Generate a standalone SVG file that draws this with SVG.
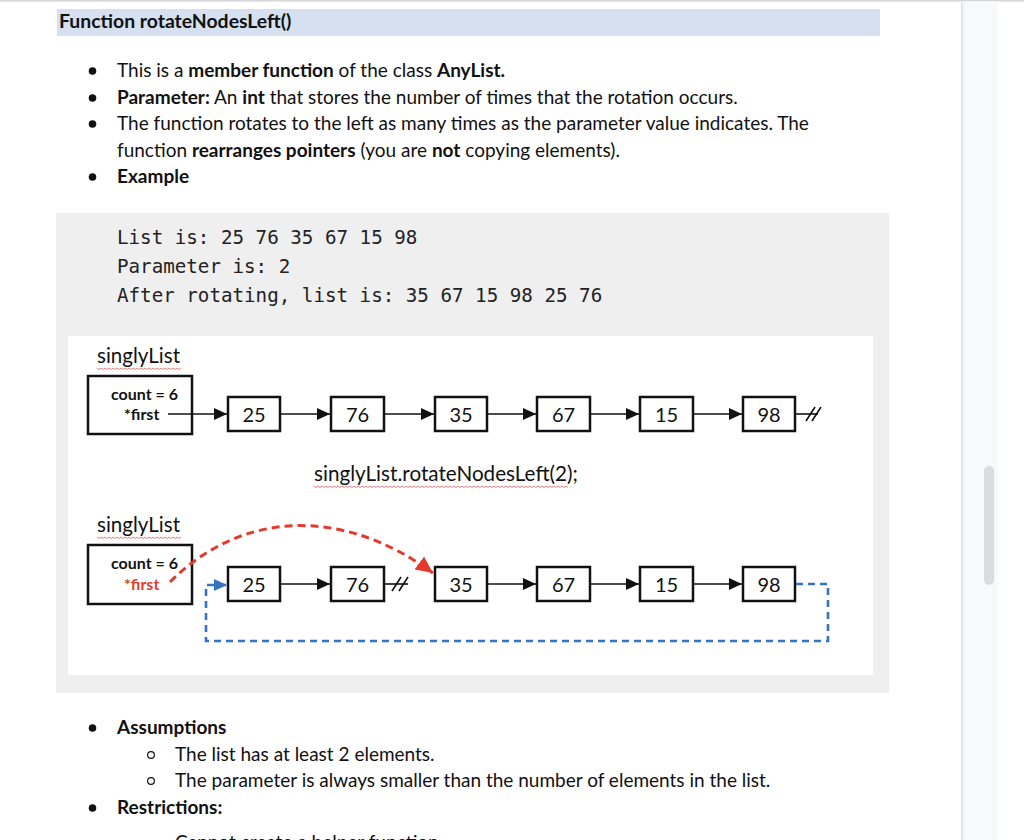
<svg xmlns="http://www.w3.org/2000/svg" width="1024" height="840" viewBox="0 0 1024 840">
<style>
.body{font-family:Lato,"Noto Sans","Liberation Sans",sans-serif;font-size:19px;fill:#111}
.b{font-weight:bold}
.code{font-family:"DejaVu Sans Mono","Liberation Mono",monospace;font-size:19.2px;fill:#222}
.lbl{font-family:Lato,"Open Sans","Liberation Sans",sans-serif;font-size:20.5px;fill:#111}
.num{font-family:Lato,"Open Sans","Liberation Sans",sans-serif;font-size:20px;fill:#111}
.cnt{font-family:Lato,"Open Sans","Liberation Sans",sans-serif;font-size:16px;font-weight:bold;fill:#111}
.box{fill:#fff;stroke:#111;stroke-width:2.5}
.ln{stroke:#111;stroke-width:1.6;fill:none}
.red{stroke:#e5392b;stroke-width:3;fill:none;stroke-dasharray:8 5}
.blue{stroke:#3573c4;stroke-width:2.6;fill:none;stroke-dasharray:7 5}
.wavy{stroke:#e07070;stroke-width:0.9;fill:none}
</style>
<defs>
<marker id="ah" markerUnits="userSpaceOnUse" markerWidth="14" markerHeight="12" refX="13" refY="6" orient="auto">
<path d="M0,0 L13,6 L0,12 Z" fill="#111"/>
</marker>
<marker id="ahr" markerUnits="userSpaceOnUse" markerWidth="18" markerHeight="16" refX="17" refY="8" orient="auto">
<path d="M0,0 L17,8 L0,16 Z" fill="#e5392b"/>
</marker>
<marker id="ahb" markerUnits="userSpaceOnUse" markerWidth="14" markerHeight="12" refX="13" refY="6" orient="auto">
<path d="M0,0 L13,6 L0,12 Z" fill="#3573c4"/>
</marker>
<linearGradient id="sh" x1="0" y1="0" x2="1" y2="0">
<stop offset="0" stop-color="#dcdcdc"/>
<stop offset="1" stop-color="#f8f9fa" stop-opacity="0"/>
</linearGradient>
</defs>
<rect width="1024" height="840" fill="#fff"/>
<rect x="0" y="0" width="1024" height="1.5" fill="#d6d6d6"/>
<g id="sidebar">
<rect x="961" y="1.5" width="37" height="839" fill="#f8f9fa"/>
<rect x="961" y="1.5" width="5" height="839" fill="url(#sh)"/>
<rect x="984" y="466" width="10" height="119" rx="5" fill="#dadce0"/>
</g>
<g id="title">
<rect x="57" y="9" width="823" height="27" fill="#d5e1f0"/>
<text x="59" y="28" class="body b" style="font-size:19.4px">Function rotateNodesLeft()</text>
</g>
<g id="bullets">
<circle cx="92.5" cy="71" r="3.8" fill="#111"/>
<circle cx="92.5" cy="98" r="3.8" fill="#111"/>
<circle cx="92.5" cy="124" r="3.8" fill="#111"/>
<circle cx="92.5" cy="177" r="3.8" fill="#111"/>
<text x="117" y="77" class="body">This is a <tspan class="b">member function</tspan> of the class <tspan class="b">AnyList.</tspan></text>
<text x="117" y="104" class="body"><tspan class="b">Parameter:</tspan> An <tspan class="b">int</tspan> that stores the number of times that the rotation occurs.</text>
<text x="117" y="130" class="body">The function rotates to the left as many times as the parameter value indicates. The</text>
<text x="117" y="157" class="body">function <tspan class="b">rearranges pointers</tspan> (you are <tspan class="b">not</tspan> copying elements).</text>
<text x="117" y="183" class="body b">Example</text>
</g>
<g id="codeblock">
<rect x="56" y="213" width="833" height="480" fill="#efefef"/>
<text x="117" y="244" class="code">List is: 25 76 35 67 15 98</text>
<text x="117" y="273" class="code">Parameter is: 2</text>
<text x="117" y="302" class="code">After rotating, list is: 35 67 15 98 25 76</text>
<rect x="68" y="336" width="805" height="339" fill="#fff"/>
</g>
<g id="top-label">
<text x="97" y="363" class="lbl" textLength="83" lengthAdjust="spacingAndGlyphs">singlyList</text>
<path class="wavy" d="M97,368 l2,1.5 l2,-1.5 l2,1.5 l2,-1.5 l2,1.5 l2,-1.5 l2,1.5 l2,-1.5 l2,1.5 l2,-1.5 l2,1.5 l2,-1.5 l2,1.5 l2,-1.5 l2,1.5 l2,-1.5 l2,1.5 l2,-1.5 l2,1.5 l2,-1.5 l2,1.5 l2,-1.5 l2,1.5 l2,-1.5 l2,1.5 l2,-1.5 l2,1.5 l2,-1.5 l2,1.5 l2,-1.5 l2,1.5 l2,-1.5 l2,1.5 l2,-1.5 l2,1.5 l2,-1.5 l2,1.5 l2,-1.5 l2,1.5 l2,-1.5 l2,1.5 l2,-1.5"/>
</g>
<g id="top-head">
<rect x="88" y="376" width="104" height="58" class="box"/>
<text x="111" y="400" class="cnt">count = 6</text>
<text x="124" y="420" class="cnt">*first</text>
</g>
<g id="top-n25"><rect x="228" y="397" width="52" height="34" class="box"/><text x="254" y="421.5" class="num" text-anchor="middle">25</text></g>
<g id="top-n76"><rect x="331" y="397" width="53" height="34" class="box"/><text x="357.5" y="421.5" class="num" text-anchor="middle">76</text></g>
<g id="top-n35"><rect x="435" y="397" width="52" height="34" class="box"/><text x="461" y="421.5" class="num" text-anchor="middle">35</text></g>
<g id="top-n67"><rect x="537" y="397" width="53" height="34" class="box"/><text x="563.5" y="421.5" class="num" text-anchor="middle">67</text></g>
<g id="top-n15"><rect x="640" y="397" width="53" height="34" class="box"/><text x="666.5" y="421.5" class="num" text-anchor="middle">15</text></g>
<g id="top-n98"><rect x="743" y="397" width="52" height="34" class="box"/><text x="769" y="421.5" class="num" text-anchor="middle">98</text></g>
<g id="call">
<text x="314" y="481" class="lbl" textLength="264" lengthAdjust="spacingAndGlyphs">singlyList.rotateNodesLeft(2);</text>
<path class="wavy" d="M314,486 l2,1.5 l2,-1.5 l2,1.5 l2,-1.5 l2,1.5 l2,-1.5 l2,1.5 l2,-1.5 l2,1.5 l2,-1.5 l2,1.5 l2,-1.5 l2,1.5 l2,-1.5 l2,1.5 l2,-1.5 l2,1.5 l2,-1.5 l2,1.5 l2,-1.5 l2,1.5 l2,-1.5 l2,1.5 l2,-1.5 l2,1.5 l2,-1.5 l2,1.5 l2,-1.5 l2,1.5 l2,-1.5 l2,1.5 l2,-1.5 l2,1.5 l2,-1.5 l2,1.5 l2,-1.5 l2,1.5 l2,-1.5 l2,1.5 l2,-1.5 l2,1.5 l2,-1.5 l2,1.5 l2,-1.5 l2,1.5 l2,-1.5 l2,1.5 l2,-1.5 l2,1.5 l2,-1.5 l2,1.5 l2,-1.5 l2,1.5 l2,-1.5 l2,1.5 l2,-1.5 l2,1.5 l2,-1.5 l2,1.5 l2,-1.5 l2,1.5 l2,-1.5 l2,1.5 l2,-1.5 l2,1.5 l2,-1.5 l2,1.5 l2,-1.5 l2,1.5 l2,-1.5 l2,1.5 l2,-1.5 l2,1.5 l2,-1.5 l2,1.5 l2,-1.5 l2,1.5 l2,-1.5 l2,1.5 l2,-1.5 l2,1.5 l2,-1.5 l2,1.5 l2,-1.5 l2,1.5 l2,-1.5 l2,1.5 l2,-1.5 l2,1.5 l2,-1.5 l2,1.5 l2,-1.5 l2,1.5 l2,-1.5 l2,1.5 l2,-1.5 l2,1.5 l2,-1.5 l2,1.5 l2,-1.5 l2,1.5 l2,-1.5 l2,1.5 l2,-1.5 l2,1.5 l2,-1.5 l2,1.5 l2,-1.5 l2,1.5 l2,-1.5 l2,1.5 l2,-1.5 l2,1.5 l2,-1.5 l2,1.5 l2,-1.5 l2,1.5 l2,-1.5 l2,1.5 l2,-1.5 l2,1.5 l2,-1.5 l2,1.5 l2,-1.5 l2,1.5 l2,-1.5 l2,1.5"/>
</g>
<g id="bot-label">
<text x="97" y="532" class="lbl" textLength="83" lengthAdjust="spacingAndGlyphs">singlyList</text>
<path class="wavy" d="M97,537 l2,1.5 l2,-1.5 l2,1.5 l2,-1.5 l2,1.5 l2,-1.5 l2,1.5 l2,-1.5 l2,1.5 l2,-1.5 l2,1.5 l2,-1.5 l2,1.5 l2,-1.5 l2,1.5 l2,-1.5 l2,1.5 l2,-1.5 l2,1.5 l2,-1.5 l2,1.5 l2,-1.5 l2,1.5 l2,-1.5 l2,1.5 l2,-1.5 l2,1.5 l2,-1.5 l2,1.5 l2,-1.5 l2,1.5 l2,-1.5 l2,1.5 l2,-1.5 l2,1.5 l2,-1.5 l2,1.5 l2,-1.5 l2,1.5 l2,-1.5 l2,1.5 l2,-1.5"/>
</g>
<g id="bot-head">
<rect x="88" y="545" width="104" height="59" class="box"/>
<text x="111" y="569" class="cnt">count = 6</text>
<text x="124" y="590" class="cnt" style="fill:#e5392b">*first</text>
</g>
<g id="bot-n25"><rect x="228" y="567" width="52" height="34" class="box"/><text x="254" y="591.5" class="num" text-anchor="middle">25</text></g>
<g id="bot-n76"><rect x="331" y="567" width="53" height="34" class="box"/><text x="357.5" y="591.5" class="num" text-anchor="middle">76</text></g>
<g id="bot-n35"><rect x="435" y="567" width="52" height="34" class="box"/><text x="461" y="591.5" class="num" text-anchor="middle">35</text></g>
<g id="bot-n67"><rect x="537" y="567" width="53" height="34" class="box"/><text x="563.5" y="591.5" class="num" text-anchor="middle">67</text></g>
<g id="bot-n15"><rect x="640" y="567" width="53" height="34" class="box"/><text x="666.5" y="591.5" class="num" text-anchor="middle">15</text></g>
<g id="bot-n98"><rect x="743" y="567" width="52" height="34" class="box"/><text x="769" y="591.5" class="num" text-anchor="middle">98</text></g>
<g id="connectors">
<line class="ln" x1="168" y1="414" x2="227" y2="414" marker-end="url(#ah)"/>
<line class="ln" x1="281" y1="414" x2="330" y2="414" marker-end="url(#ah)"/>
<line class="ln" x1="385" y1="414" x2="434" y2="414" marker-end="url(#ah)"/>
<line class="ln" x1="488" y1="414" x2="536" y2="414" marker-end="url(#ah)"/>
<line class="ln" x1="591" y1="414" x2="639" y2="414" marker-end="url(#ah)"/>
<line class="ln" x1="694" y1="414" x2="742" y2="414" marker-end="url(#ah)"/>
<line class="ln" x1="796" y1="414" x2="818" y2="414"/>
<line class="ln" x1="806" y1="421" x2="815" y2="407"/>
<line class="ln" x1="812" y1="421" x2="821" y2="407"/>
<line class="ln" x1="281" y1="584" x2="330" y2="584" marker-end="url(#ah)"/>
<line class="ln" x1="385" y1="584" x2="408" y2="584"/>
<line class="ln" x1="392" y1="591" x2="401" y2="577"/>
<line class="ln" x1="399" y1="591" x2="408" y2="577"/>
<line class="ln" x1="488" y1="584" x2="536" y2="584" marker-end="url(#ah)"/>
<line class="ln" x1="591" y1="584" x2="639" y2="584" marker-end="url(#ah)"/>
<line class="ln" x1="694" y1="584" x2="742" y2="584" marker-end="url(#ah)"/>
<path class="red" d="M170,582 C240,512 340,505 433,573" marker-end="url(#ahr)"/>
<path class="blue" d="M796,584 H828 V641 H206 V585 H227" marker-end="url(#ahb)"/>
</g>
<g id="bullets2">
<circle cx="92.5" cy="728" r="3.8" fill="#111"/>
<circle cx="151" cy="755" r="3.4" fill="none" stroke="#111" stroke-width="1.2"/>
<circle cx="151" cy="781" r="3.4" fill="none" stroke="#111" stroke-width="1.2"/>
<circle cx="92.5" cy="808" r="3.8" fill="#111"/>
<text x="117" y="734" class="body b">Assumptions</text>
<text x="175" y="761" class="body">The list has at least 2 elements.</text>
<text x="175" y="787" class="body">The parameter is always smaller than the number of elements in the list.</text>
<text x="117" y="814" class="body b">Restrictions:</text>
<text x="175" y="849" class="body">Cannot create a helper function.</text>
</g>
</svg>
